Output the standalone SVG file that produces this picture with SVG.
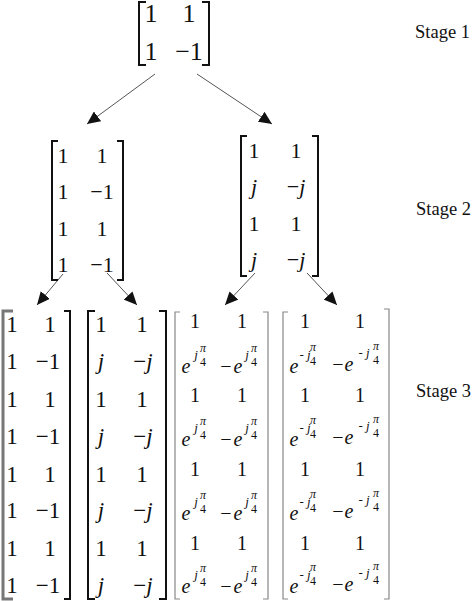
<svg xmlns="http://www.w3.org/2000/svg" width="474" height="601" viewBox="0 0 474 601">
<defs>
<style>
text{font-family:"Liberation Serif","Tinos","Noto Serif","DejaVu Serif",serif;fill:#111;text-anchor:middle}
.s1{font-size:26px}
.s2{font-size:22px}
.s3{font-size:23px}
.sm{font-size:20px}
.it{font-style:italic}
.ex{font-size:13px;font-style:italic}
.fr{font-size:12px}
.lab{font-size:18.5px;text-anchor:start}
.bk{fill:none;stroke:#111;stroke-width:2}
.bkg{fill:none;stroke:#777;stroke-width:3}
.bkt{fill:none;stroke:#888;stroke-width:1.2}
.cn{stroke:#555;stroke-width:1;fill:none;marker-end:url(#ah)}
</style>
<marker id="ah" markerUnits="userSpaceOnUse" markerWidth="14" markerHeight="12" refX="13" refY="6" orient="auto">
<path d="M0,0 L13,6 L0,12 z" fill="#111"/>
</marker>
</defs>
<rect width="474" height="601" fill="#fff"/>

<g id="connectors">
<line class="cn" x1="155" y1="74" x2="87" y2="124"/>
<line class="cn" x1="197" y1="74" x2="272" y2="124"/>
<line class="cn" x1="63" y1="274" x2="37" y2="305"/>
<line class="cn" x1="107" y1="273" x2="137" y2="305"/>
<line class="cn" x1="255" y1="273" x2="225" y2="305"/>
<line class="cn" x1="307" y1="273" x2="337" y2="305"/>
</g>

<g id="stage1">
<path class="bk" d="M146,2 H139 V65 H146"/>
<path class="bk" d="M202,2 H209 V65 H202"/>
<text class="s1" x="151" y="22">1</text><text class="s1" x="189" y="22">1</text>
<text class="s1" x="151" y="60">1</text><text class="s1" x="189" y="60">−1</text>
</g>

<g id="stage2-left">
<path class="bk" d="M58,141 H52 V280 H58"/>
<path class="bk" d="M117,141 H123 V280 H117"/>
<text class="s2" x="63" y="163">1</text><text class="s2" x="102" y="163">1</text>
<text class="s2" x="63" y="199">1</text><text class="s2" x="102" y="199">−1</text>
<text class="s2" x="63" y="236">1</text><text class="s2" x="102" y="236">1</text>
<text class="s2" x="63" y="272">1</text><text class="s2" x="102" y="272">−1</text>
</g>

<g id="stage2-right">
<path class="bk" d="M247,136 H241 V276 H247"/>
<path class="bk" d="M312,136 H318 V276 H312"/>
<text class="s2" x="254" y="158">1</text><text class="s2" x="296" y="158">1</text>
<text class="s2 it" x="254" y="194">j</text><text class="s2" x="296" y="194">−<tspan class="it">j</tspan></text>
<text class="s2" x="254" y="231">1</text><text class="s2" x="296" y="231">1</text>
<text class="s2 it" x="254" y="267">j</text><text class="s2" x="296" y="267">−<tspan class="it">j</tspan></text>
</g>

<g id="stage3-a">
<path class="bkg" d="M13,311 H3 V599 H13"/>
<path class="bk" d="M64,311 H70 V599 H64"/>
<text class="s3" x="12" y="332">1</text><text class="s3" x="50" y="332">1</text>
<text class="s3" x="12" y="369">1</text><text class="s3" x="48" y="369">−1</text>
<text class="s3" x="12" y="407">1</text><text class="s3" x="50" y="407">1</text>
<text class="s3" x="12" y="444">1</text><text class="s3" x="48" y="444">−1</text>
<text class="s3" x="12" y="482">1</text><text class="s3" x="50" y="482">1</text>
<text class="s3" x="12" y="518">1</text><text class="s3" x="48" y="518">−1</text>
<text class="s3" x="12" y="556">1</text><text class="s3" x="50" y="556">1</text>
<text class="s3" x="12" y="593">1</text><text class="s3" x="48" y="593">−1</text>
</g>

<g id="stage3-b">
<path class="bk" d="M95,311 H88 V599 H95"/>
<path class="bk" d="M159,311 H166 V599 H159"/>
<text class="s3" x="101" y="332">1</text><text class="s3" x="142" y="332">1</text>
<text class="s3 it" x="101" y="369">j</text><text class="s3" x="143" y="369">−<tspan class="it">j</tspan></text>
<text class="s3" x="101" y="407">1</text><text class="s3" x="142" y="407">1</text>
<text class="s3 it" x="101" y="444">j</text><text class="s3" x="143" y="444">−<tspan class="it">j</tspan></text>
<text class="s3" x="101" y="482">1</text><text class="s3" x="142" y="482">1</text>
<text class="s3 it" x="101" y="518">j</text><text class="s3" x="143" y="518">−<tspan class="it">j</tspan></text>
<text class="s3" x="101" y="556">1</text><text class="s3" x="142" y="556">1</text>
<text class="s3 it" x="101" y="593">j</text><text class="s3" x="143" y="593">−<tspan class="it">j</tspan></text>
</g>

<g id="stage3-c">
<path class="bkt" d="M180,312 H175 V599 H180"/>
<path class="bkt" d="M263,312 H268 V599 H263"/>
<text class="sm" x="195" y="328">1</text><text class="sm" x="242" y="328">1</text>
<text class="sm" x="195" y="402">1</text><text class="sm" x="242" y="402">1</text>
<text class="sm" x="195" y="476">1</text><text class="sm" x="242" y="476">1</text>
<text class="sm" x="195" y="550">1</text><text class="sm" x="242" y="550">1</text>
<g id="c-r2">
<text class="sm it" x="186" y="373">e</text><text class="ex" x="196" y="359">j</text><text class="fr it" x="203" y="352">π</text><text class="fr" x="203" y="366">4</text>
<text class="sm" x="226" y="373">−</text><text class="sm it" x="238" y="373">e</text><text class="ex" x="247" y="359">j</text><text class="fr it" x="254" y="352">π</text><text class="fr" x="254" y="366">4</text>
</g>
<g id="c-r4">
<text class="sm it" x="186" y="446">e</text><text class="ex" x="196" y="432">j</text><text class="fr it" x="203" y="425">π</text><text class="fr" x="203" y="439">4</text>
<text class="sm" x="226" y="446">−</text><text class="sm it" x="238" y="446">e</text><text class="ex" x="247" y="432">j</text><text class="fr it" x="254" y="425">π</text><text class="fr" x="254" y="439">4</text>
</g>
<g id="c-r6">
<text class="sm it" x="186" y="520">e</text><text class="ex" x="196" y="506">j</text><text class="fr it" x="203" y="499">π</text><text class="fr" x="203" y="513">4</text>
<text class="sm" x="226" y="520">−</text><text class="sm it" x="238" y="520">e</text><text class="ex" x="247" y="506">j</text><text class="fr it" x="254" y="499">π</text><text class="fr" x="254" y="513">4</text>
</g>
<g id="c-r8">
<text class="sm it" x="186" y="593">e</text><text class="ex" x="196" y="579">j</text><text class="fr it" x="203" y="572">π</text><text class="fr" x="203" y="586">4</text>
<text class="sm" x="226" y="593">−</text><text class="sm it" x="238" y="593">e</text><text class="ex" x="247" y="579">j</text><text class="fr it" x="254" y="572">π</text><text class="fr" x="254" y="586">4</text>
</g>
</g>

<g id="stage3-d">
<path class="bkt" d="M288,312 H283 V599 H288"/>
<path class="bkt" d="M384,309 H389 V599 H384"/>
<text class="sm" x="305" y="328">1</text><text class="sm" x="360" y="328">1</text>
<text class="sm" x="305" y="402">1</text><text class="sm" x="360" y="402">1</text>
<text class="sm" x="305" y="476">1</text><text class="sm" x="360" y="476">1</text>
<text class="sm" x="305" y="550">1</text><text class="sm" x="360" y="550">1</text>
<g id="d-r2">
<text class="sm it" x="294" y="373">e</text><text class="ex" x="305" y="359">- j</text><text class="fr it" x="313" y="351">π</text><text class="fr" x="313" y="365">4</text>
<text class="sm" x="338" y="371">−</text><text class="sm it" x="349" y="371">e</text><text class="ex" x="364" y="357">- j</text><text class="fr it" x="376" y="350">π</text><text class="fr" x="376" y="364">4</text>
</g>
<g id="d-r4">
<text class="sm it" x="294" y="446">e</text><text class="ex" x="305" y="432">- j</text><text class="fr it" x="313" y="424">π</text><text class="fr" x="313" y="438">4</text>
<text class="sm" x="338" y="444">−</text><text class="sm it" x="349" y="444">e</text><text class="ex" x="364" y="430">- j</text><text class="fr it" x="376" y="423">π</text><text class="fr" x="376" y="437">4</text>
</g>
<g id="d-r6">
<text class="sm it" x="294" y="520">e</text><text class="ex" x="305" y="506">- j</text><text class="fr it" x="313" y="498">π</text><text class="fr" x="313" y="512">4</text>
<text class="sm" x="338" y="518">−</text><text class="sm it" x="349" y="518">e</text><text class="ex" x="364" y="504">- j</text><text class="fr it" x="376" y="497">π</text><text class="fr" x="376" y="511">4</text>
</g>
<g id="d-r8">
<text class="sm it" x="294" y="593">e</text><text class="ex" x="305" y="579">- j</text><text class="fr it" x="313" y="571">π</text><text class="fr" x="313" y="585">4</text>
<text class="sm" x="338" y="591">−</text><text class="sm it" x="349" y="591">e</text><text class="ex" x="364" y="577">- j</text><text class="fr it" x="376" y="570">π</text><text class="fr" x="376" y="584">4</text>
</g>
</g>

<g id="labels">
<text class="lab" x="415" y="38">Stage 1</text>
<text class="lab" x="416" y="215">Stage 2</text>
<text class="lab" x="416" y="397">Stage 3</text>
</g>
</svg>
